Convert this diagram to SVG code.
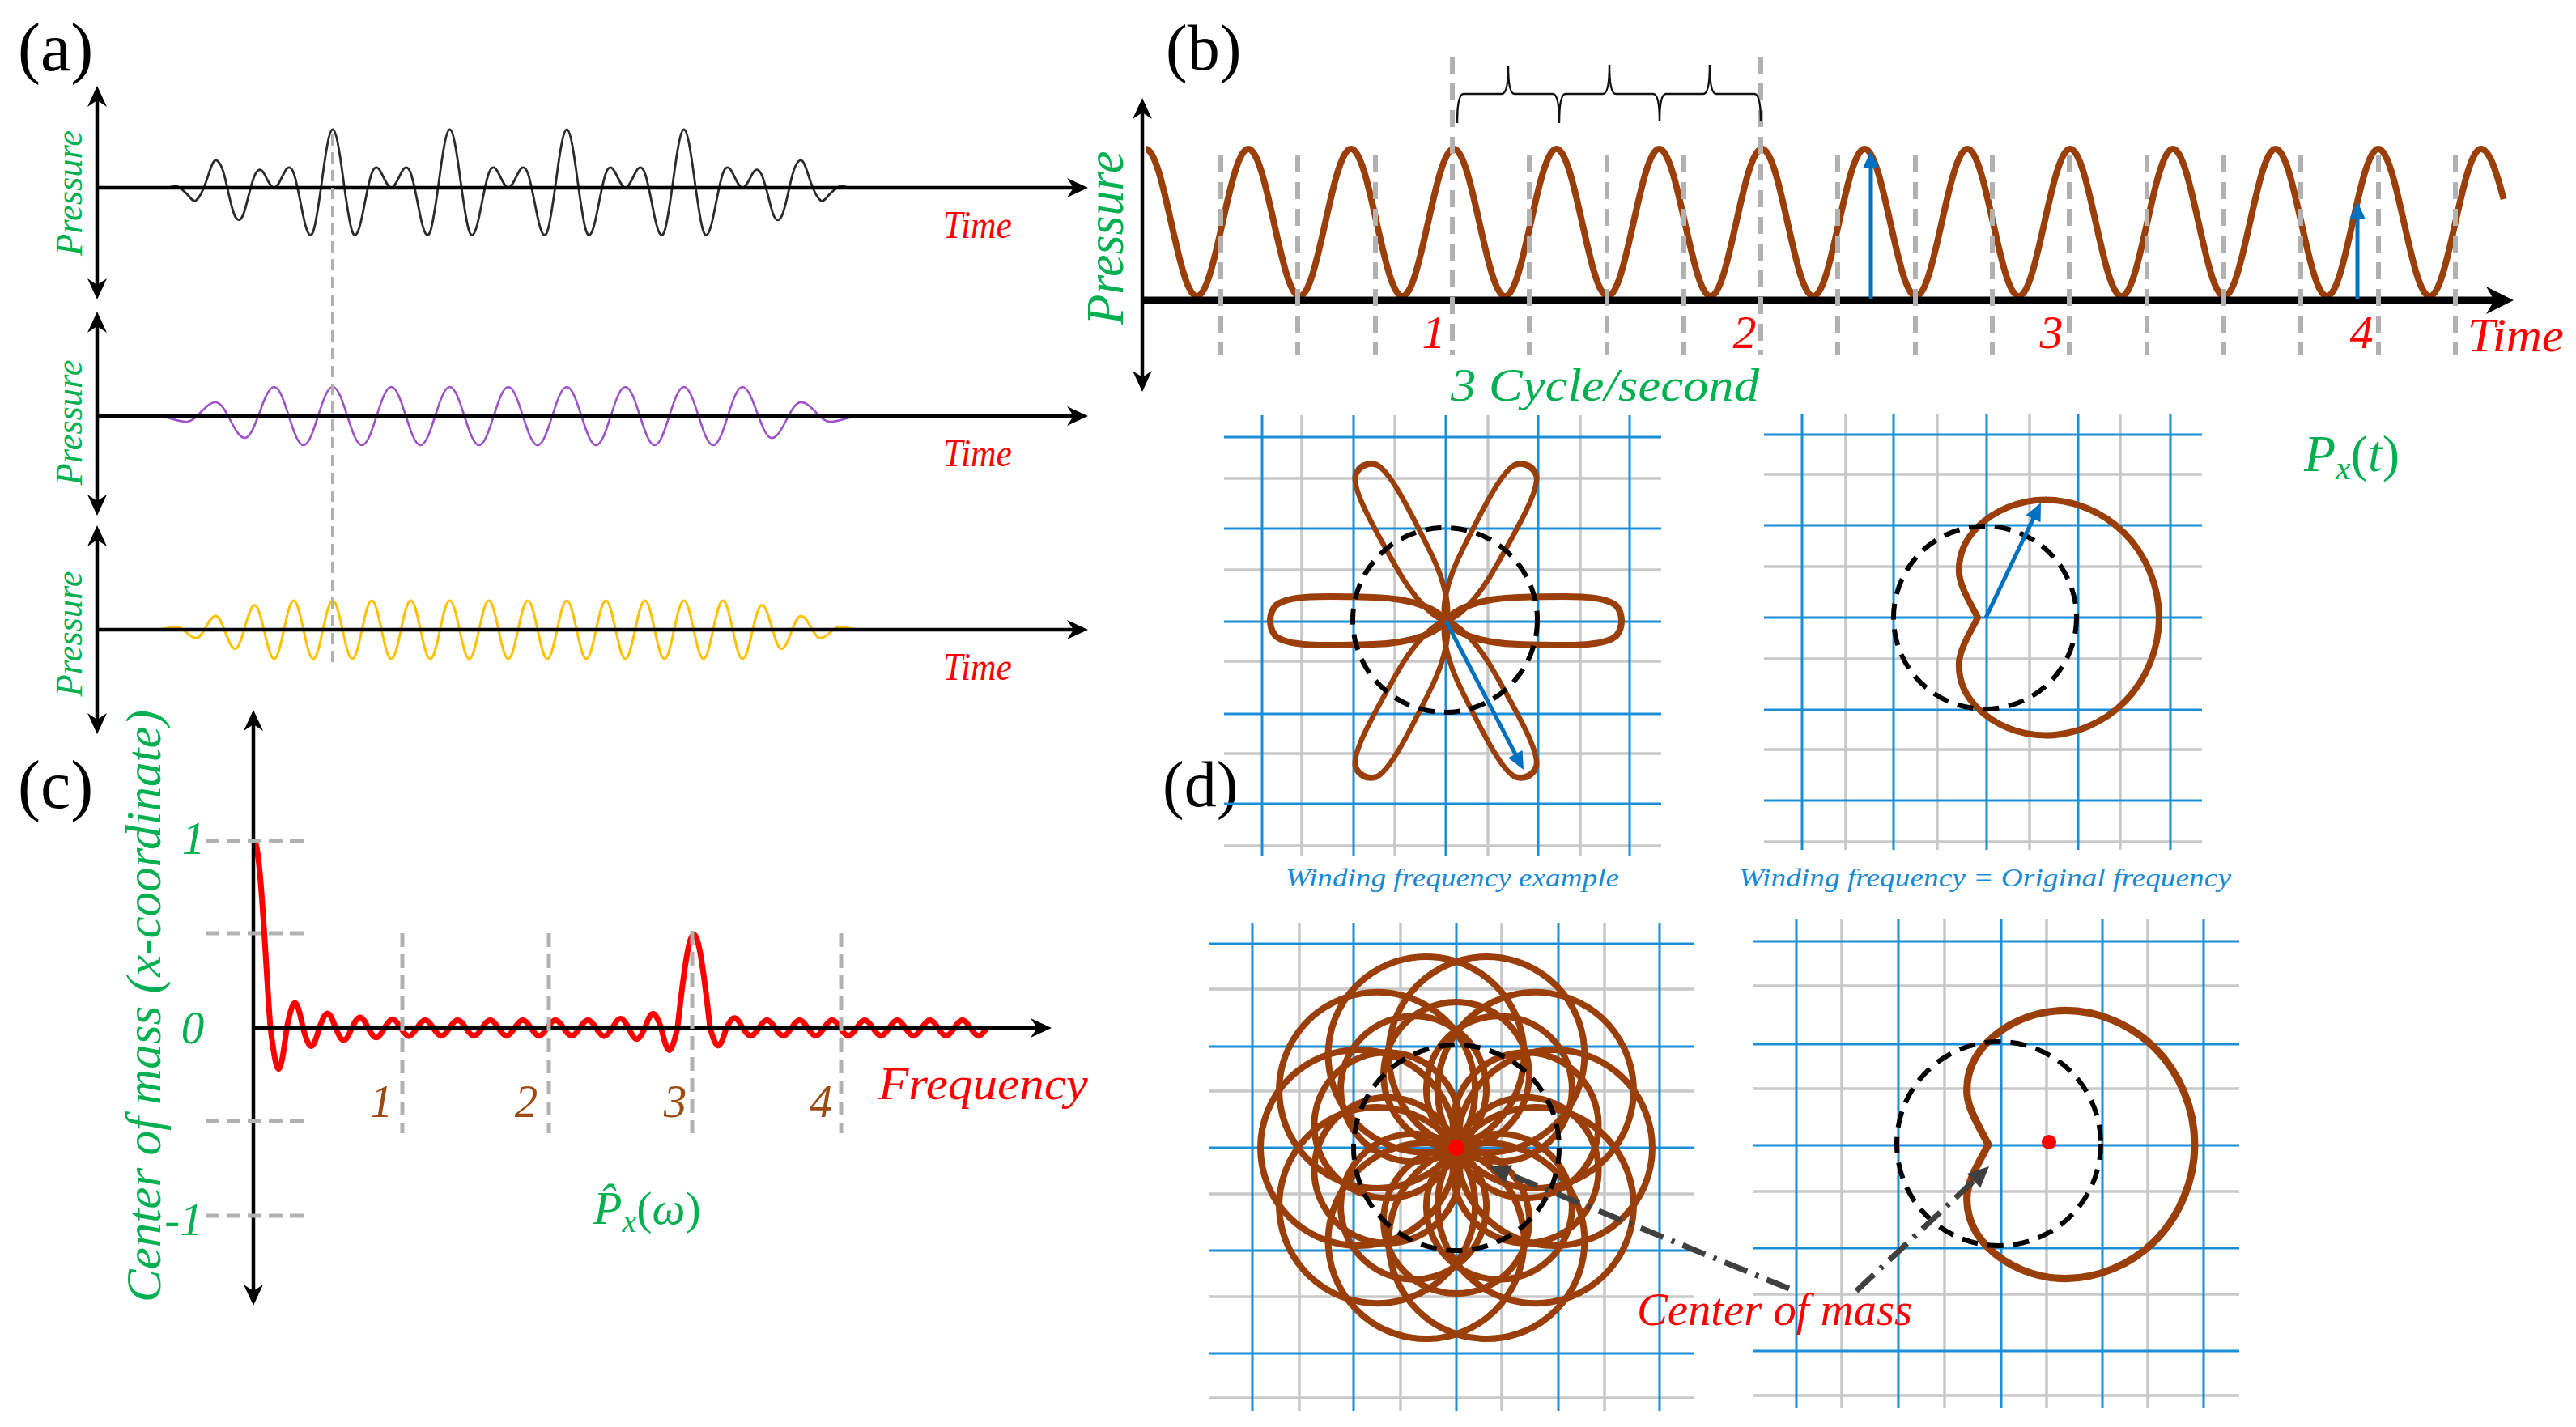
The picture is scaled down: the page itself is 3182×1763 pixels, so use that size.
<svg xmlns="http://www.w3.org/2000/svg" xmlns:xlink="http://www.w3.org/1999/xlink" width="3182" height="1763" viewBox="0 0 3182 1763" font-family="'Liberation Serif', 'Times New Roman', serif">
<style>
text{font-family:'Liberation Serif','Times New Roman',serif}
.it{font-style:italic}
.g{fill:#00b050}
.r{fill:#ff0000}
.bn{fill:#9c4a12}
.bl{fill:#1a8ad4}
.ax{stroke:#000;fill:none;stroke-width:4.5}
.dsh{stroke:#b3b0b0;fill:none;stroke-width:6;stroke-dasharray:21 12}
.gb{stroke:#1a8fd8;stroke-width:3;fill:none}
.gg{stroke:#c8c8c8;stroke-width:3.5;fill:none}
.brn{stroke:#9b3f0a;stroke-width:8;fill:none;stroke-linejoin:round}
.dc{stroke:#000;stroke-width:6;fill:none;stroke-dasharray:20 12}
.barr{stroke:#0070c0;stroke-width:5;fill:none}
.gdd{stroke:#404040;stroke-width:7;fill:none;stroke-dasharray:30 11 4 11}
</style>
<defs>
<marker id="ak" viewBox="-30 -15 32 30" markerWidth="32" markerHeight="30" refX="-8" refY="0" orient="auto-start-reverse" markerUnits="userSpaceOnUse"><path d="M0,0 L-26,-12 L-18,0 L-26,12 Z" fill="#000"/></marker>
<marker id="akB" viewBox="-38 -19 40 38" markerWidth="40" markerHeight="38" refX="-10" refY="0" orient="auto-start-reverse" markerUnits="userSpaceOnUse"><path d="M0,0 L-34,-17 L-24,0 L-34,17 Z" fill="#000"/></marker>
<marker id="ab" viewBox="-24 -12 26 24" markerWidth="26" markerHeight="24" refX="-6" refY="0" orient="auto" markerUnits="userSpaceOnUse"><path d="M0,0 L-22,-10 L-22,10 Z" fill="#0070c0"/></marker>
<marker id="ag" viewBox="-28 -14 30 28" markerWidth="30" markerHeight="28" refX="-6" refY="0" orient="auto" markerUnits="userSpaceOnUse"><path d="M0,0 L-26,-12 L-26,12 Z" fill="#404040"/></marker>
<path id="petal" d="M0,0 C10,-14 40,-28 90,-29 C150,-31 198,-32 211,-18 C219,-8 219,8 211,18 C198,32 150,31 90,29 C40,28 10,14 0,0 Z"/>
<path id="card" d="M224,0 C224,-39.1 207.7,-77.8 181,-104.5 C154.3,-131.2 117.9,-145.5 84,-145.5 C50.1,-145.5 19.55,-131.55 0,-112 C-19.55,-92.45 -24,-72 -23,-55 C-22,-38 -8,-16 0,0 C-8,16 -22,38 -23,55 C-24,72 -19.55,92.45 0,112 C19.55,131.55 50.1,145.5 84,145.5 C117.9,145.5 154.3,131.2 181,104.5 C207.7,77.8 224,39.1 224,0 Z"/>
</defs>
<rect width="3182" height="1763" fill="#fff"/>

<g id="panel-a">
<text x="22" y="87" font-size="84">(a)</text>
<path d="M150,232 L206.15,232 C210.17,232 214.18,229.11 218.2,230.2 C222.22,231.29 226.23,235.34 230.25,239 C234.27,242.66 238.28,250.62 242.3,247.5 C246.32,244.38 250.33,236.5 254.35,225.2 C258.37,213.9 262.38,198 266.4,198 C270.42,198 274.43,205 278.45,221.8 C282.47,238.6 286.48,260.34 290.5,267.5 C294.52,274.66 298.53,273.1 302.55,259 C306.57,244.9 310.58,225.97 314.6,216.8 C318.62,207.63 322.63,207.74 326.65,215.2 C330.67,222.66 334.68,232 338.7,232 c4.02,0 8.03,-10.03 12.05,-18 c4.02,-7.97 8.03,-10.88 12.05,0 c4.02,10.88 8.03,35.15 12.05,54 c4.02,18.85 8.03,28.88 12.05,18 c4.02,-10.88 8.03,-42.26 12.05,-72 c4.02,-29.74 8.03,-54 12.05,-54 c4.02,0 8.03,24.26 12.05,54 c4.02,29.74 8.03,61.12 12.05,72 c4.02,10.88 8.03,0.85 12.05,-18 c4.02,-18.85 8.03,-43.12 12.05,-54 c4.02,-10.88 8.03,-7.97 12.05,0 c4.02,7.97 8.03,18 12.05,18 c4.02,0 8.03,-10.03 12.05,-18 c4.02,-7.97 8.03,-10.88 12.05,0 c4.02,10.88 8.03,35.15 12.05,54 c4.02,18.85 8.03,28.88 12.05,18 c4.02,-10.88 8.03,-42.26 12.05,-72 c4.02,-29.74 8.03,-54 12.05,-54 c4.02,0 8.03,24.26 12.05,54 c4.02,29.74 8.03,61.12 12.05,72 c4.02,10.88 8.03,0.85 12.05,-18 c4.02,-18.85 8.03,-43.12 12.05,-54 c4.02,-10.88 8.03,-7.97 12.05,0 c4.02,7.97 8.03,18 12.05,18 c4.02,0 8.03,-10.03 12.05,-18 c4.02,-7.97 8.03,-10.88 12.05,0 c4.02,10.88 8.03,35.15 12.05,54 c4.02,18.85 8.03,28.88 12.05,18 c4.02,-10.88 8.03,-42.26 12.05,-72 c4.02,-29.74 8.03,-54 12.05,-54 c4.02,0 8.03,24.26 12.05,54 c4.02,29.74 8.03,61.12 12.05,72 c4.02,10.88 8.03,0.85 12.05,-18 c4.02,-18.85 8.03,-43.12 12.05,-54 c4.02,-10.88 8.03,-7.97 12.05,0 c4.02,7.97 8.03,18 12.05,18 c4.02,0 8.03,-10.03 12.05,-18 c4.02,-7.97 8.03,-10.88 12.05,0 c4.02,10.88 8.03,35.15 12.05,54 c4.02,18.85 8.03,28.88 12.05,18 c4.02,-10.88 8.03,-42.26 12.05,-72 c4.02,-29.74 8.03,-54 12.05,-54 c4.02,0 8.03,24.26 12.05,54 c4.02,29.74 8.03,61.12 12.05,72 c4.02,10.88 8.03,0.85 12.05,-18 c4.02,-18.85 8.03,-43.12 12.05,-54 c4.02,-10.88 8.03,-7.97 12.05,0 c4.02,7.97 8.03,18 12.05,18 C921.12,232 925.13,222.57 929.15,215.1 C933.17,207.63 937.18,207.61 941.2,216.8 C945.22,225.99 949.23,244.9 953.25,259.1 C957.27,273.3 961.28,274.77 965.3,267.6 C969.32,260.43 973.33,238.7 977.35,221.8 C981.37,204.9 985.38,197.9 989.4,197.9 C993.42,197.9 997.43,213.8 1001.45,225.1 C1005.47,236.4 1009.48,244.47 1013.5,247.6 C1017.52,250.73 1021.53,242.79 1025.55,239.1 C1029.57,235.41 1033.58,231.22 1037.6,230.1 C1041.62,228.98 1045.63,232 1049.65,232 L1140,232" fill="none" stroke="#2b2b2b" stroke-width="2.8"/>
<path d="M150,514 L194.1,514 C207.24,514 217.11,521 230.25,521 C243.39,521 253.26,497 266.4,497 C279.54,497 289.41,541 302.55,541 C315.69,541 325.56,478 338.7,478 c13.14,0 23.01,72 36.15,72 s23.01,-72 36.15,-72 s23.01,72 36.15,72 s23.01,-72 36.15,-72 s23.01,72 36.15,72 s23.01,-72 36.15,-72 s23.01,72 36.15,72 s23.01,-72 36.15,-72 s23.01,72 36.15,72 s23.01,-72 36.15,-72 s23.01,72 36.15,72 s23.01,-72 36.15,-72 s23.01,72 36.15,72 s23.01,-72 36.15,-72 s23.01,72 36.15,72 s23.01,-72 36.15,-72 C930.24,478 940.11,541.1 953.25,541.1 C966.39,541.1 976.26,496.9 989.4,496.9 C1002.54,496.9 1012.41,521.1 1025.55,521.1 C1038.69,521.1 1048.56,514 1061.7,514 L1140,514" fill="none" stroke="#9e52c9" stroke-width="2.6"/>
<path d="M150,778 L194.1,778 C202.86,778 209.44,774.4 218.2,774.4 C226.96,774.4 233.54,788.3 242.3,788.3 C251.06,788.3 257.64,761 266.4,761 C275.16,761 281.74,801.7 290.5,801.7 C299.26,801.7 305.84,747.7 314.6,747.7 C323.36,747.7 329.94,814 338.7,814 c8.76,0 15.34,-72 24.1,-72 s15.34,72 24.1,72 s15.34,-72 24.1,-72 s15.34,72 24.1,72 s15.34,-72 24.1,-72 s15.34,72 24.1,72 s15.34,-72 24.1,-72 s15.34,72 24.1,72 s15.34,-72 24.1,-72 s15.34,72 24.1,72 s15.34,-72 24.1,-72 s15.34,72 24.1,72 s15.34,-72 24.1,-72 s15.34,72 24.1,72 s15.34,-72 24.1,-72 s15.34,72 24.1,72 s15.34,-72 24.1,-72 s15.34,72 24.1,72 s15.34,-72 24.1,-72 s15.34,72 24.1,72 s15.34,-72 24.1,-72 s15.34,72 24.1,72 s15.34,-72 24.1,-72 s15.34,72 24.1,72 C925.86,814 932.44,747.6 941.2,747.6 C949.96,747.6 956.54,801.7 965.3,801.7 C974.06,801.7 980.64,760.9 989.4,760.9 C998.16,760.9 1004.74,788.4 1013.5,788.4 C1022.26,788.4 1028.84,774.3 1037.6,774.3 C1046.36,774.3 1052.94,778 1061.7,778 L1140,778" fill="none" stroke="#ffc000" stroke-width="3"/>
<path class="ax" d="M120,362 L120,114" marker-start="url(#ak)" marker-end="url(#ak)"/>
<path class="ax" d="M120,629 L120,393" marker-start="url(#ak)" marker-end="url(#ak)"/>
<path class="ax" d="M120,899 L120,657" marker-start="url(#ak)" marker-end="url(#ak)"/>
<path class="ax" d="M120,232 L1336,232" marker-end="url(#ak)"/>
<path class="ax" d="M120,514 L1336,514" marker-end="url(#ak)"/>
<path class="ax" d="M120,778 L1336,778" marker-end="url(#ak)"/>
<path d="M411,166 L411,827" stroke="#b0b0b0" stroke-width="4" stroke-dasharray="14 8" fill="none"/>
<text class="it g" font-size="46" text-anchor="middle" textLength="155" lengthAdjust="spacingAndGlyphs" transform="translate(101,238.5) rotate(-90)">Pressure</text>
<text class="it g" font-size="46" text-anchor="middle" textLength="155" lengthAdjust="spacingAndGlyphs" transform="translate(101,522) rotate(-90)">Pressure</text>
<text class="it g" font-size="46" text-anchor="middle" textLength="155" lengthAdjust="spacingAndGlyphs" transform="translate(101,783) rotate(-90)">Pressure</text>
<text class="it r" x="1165" y="294" font-size="48" textLength="85" lengthAdjust="spacingAndGlyphs">Time</text>
<text class="it r" x="1165" y="576" font-size="48" textLength="85" lengthAdjust="spacingAndGlyphs">Time</text>
<text class="it r" x="1165" y="840" font-size="48" textLength="85" lengthAdjust="spacingAndGlyphs">Time</text>
</g>

<g id="panel-b">
<text x="1440" y="86" font-size="80">(b)</text>
<path d="M1415,184 c23.06,0 40.39,182 63.45,182 s40.39,-182 63.45,-182 s40.39,182 63.45,182 s40.39,-182 63.45,-182 s40.39,182 63.45,182 s40.39,-182 63.45,-182 s40.39,182 63.45,182 s40.39,-182 63.45,-182 s40.39,182 63.45,182 s40.39,-182 63.45,-182 s40.39,182 63.45,182 s40.39,-182 63.45,-182 s40.39,182 63.45,182 s40.39,-182 63.45,-182 s40.39,182 63.45,182 s40.39,-182 63.45,-182 s40.39,182 63.45,182 s40.39,-182 63.45,-182 s40.39,182 63.45,182 s40.39,-182 63.45,-182 s40.39,182 63.45,182 s40.39,-182 63.45,-182 s40.39,182 63.45,182 s40.39,-182 63.45,-182 s40.39,182 63.45,182 s40.39,-182 63.45,-182 c12,0 22,40 28,62" class="brn" stroke-width="8"/>
<path class="ax" d="M1411,476 L1411,129" marker-start="url(#ak)" marker-end="url(#ak)"/>
<path d="M1411,371 L3095,371" stroke="#000" stroke-width="9" fill="none" marker-end="url(#akB)"/>
<path class="barr" d="M2311,370 L2311,192" marker-end="url(#ab)"/>
<path class="barr" d="M2912,370 L2912,255" marker-end="url(#ab)"/>
<path class="dsh" d="M1794,70 V438 M2175,70 V438 M1508,192 V438 M1603,192 V438 M1699,192 V438 M1889,192 V438 M1985,192 V438 M2080,192 V438 M2270,192 V438 M2366,192 V438 M2461,192 V438 M2556,192 V438 M2652,192 V438 M2747,192 V438 M2842,192 V438 M2938,192 V438 M3033,192 V438"/>
<path d="M1800,152 Q1800,116 1808,116 L1855,116 Q1863,116 1863,82 Q1863,116 1871,116 L1918,116 Q1926,116 1926,152 Q1926,116 1934,116 L1980,116 Q1988,116 1988,80 Q1988,116 1996,116 L2042,116 Q2050,116 2050,150 Q2050,116 2058,116 L2104,116 Q2112,116 2112,80 Q2112,116 2120,116 L2167,116 Q2175,116 2175,150" fill="none" stroke="#111" stroke-width="2.5"/>
<text class="it g" font-size="66" text-anchor="middle" textLength="215" lengthAdjust="spacingAndGlyphs" transform="translate(1387,294) rotate(-90)">Pressure</text>
<text class="it r" x="1771" y="430" font-size="58" text-anchor="middle">1</text>
<text class="it r" x="2155" y="430" font-size="58" text-anchor="middle">2</text>
<text class="it r" x="2534" y="430" font-size="58" text-anchor="middle">3</text>
<text class="it r" x="2917" y="430" font-size="58" text-anchor="middle">4</text>
<text class="it r" x="3048" y="434" font-size="60" textLength="119" lengthAdjust="spacingAndGlyphs">Time</text>
<text class="it g" x="1792" y="495" font-size="58" textLength="381" lengthAdjust="spacingAndGlyphs">3 Cycle/second</text>
<text class="g" x="2846" y="582" font-size="64"><tspan class="it">P</tspan><tspan class="it" font-size="42" dy="10">x</tspan><tspan dy="-10">(</tspan><tspan class="it">t</tspan>)</text>
</g>

<g id="panel-c">
<text x="22" y="998" font-size="84">(c)</text>
<path d="M314,1039 C322,1039 329.11,1212.5 334.11,1270 c8.54,67.3 11.57,67.3 20.11,0 c8.54,-41.2 11.57,-41.2 20.11,0 c8.54,30.1 11.57,30.1 20.11,0 c8.54,-24 11.57,-24 20.11,0 c8.54,20.1 11.57,20.1 20.11,0 c8.54,-17.5 11.57,-17.5 20.11,0 c8.54,15.6 11.57,15.6 20.11,0 c8.54,-14.5 11.57,-14.5 20.11,0 c8.54,13.5 11.57,13.5 20.11,0 c8.54,-13 11.57,-13 20.11,0 c8.54,13 11.57,13 20.11,0 c8.54,-13 11.57,-13 20.11,0 c8.54,13 11.57,13 20.11,0 c8.54,-13 11.57,-13 20.11,0 c8.54,13 11.57,13 20.11,0 c8.54,-13 11.57,-13 20.11,0 c8.54,13 11.57,13 20.11,0 c8.54,-13 11.57,-13 20.11,0 c8.54,13 11.57,13 20.11,0 c8.54,-13 11.57,-13 20.11,0 c8.54,13.5 11.57,13.5 20.11,0 c8.54,-15.3 11.57,-15.3 20.11,0 c8.54,18.2 11.57,18.2 20.11,0 c8.54,-23.6 11.57,-23.6 20.11,0 c8.54,36.5 11.57,36.5 20.11,0 c17.07,-154 23.15,-154 40.22,0 c8.54,29.2 11.57,29.2 20.11,0 c8.54,-16.3 11.57,-16.3 20.11,0 c8.54,13 11.57,13 20.11,0 c8.54,-13 11.57,-13 20.11,0 c8.54,13 11.57,13 20.11,0 c8.54,-13 11.57,-13 20.11,0 c8.54,13 11.57,13 20.11,0 c8.54,-13 11.57,-13 20.11,0 c8.54,13 11.57,13 20.11,0 c8.54,-13 11.57,-13 20.11,0 c8.54,13 11.57,13 20.11,0 c8.54,-13 11.57,-13 20.11,0 c8.54,13 11.57,13 20.11,0 c8.54,-13 11.57,-13 20.11,0 c8.54,13 11.57,13 20.11,0 c8.54,-13 11.57,-13 20.11,0 c8.54,13 11.57,13 20.11,0" fill="none" stroke="#ff0000" stroke-width="7" stroke-linejoin="round"/>
<path class="ax" d="M313,1605 L313,885" marker-start="url(#ak)" marker-end="url(#ak)"/>
<path class="ax" d="M313,1270 L1291,1270" marker-end="url(#ak)"/>
<path d="M254,1039 H375 M254,1153 H375 M254,1385 H375 M254,1502 H375 M497,1153 V1400 M678,1153 V1400 M855,1150 V1400 M1039,1153 V1400" stroke="#b3b0b0" stroke-width="5" stroke-dasharray="17 9" fill="none"/>
<text class="it g" x="239" y="1055" font-size="57" text-anchor="middle">1</text>
<text class="it g" x="238" y="1289" font-size="57" text-anchor="middle">0</text>
<text class="it g" x="227" y="1526" font-size="57" text-anchor="middle">-1</text>
<text class="it bn" x="471" y="1380" font-size="57" text-anchor="middle">1</text>
<text class="it bn" x="650" y="1380" font-size="57" text-anchor="middle">2</text>
<text class="it bn" x="834" y="1380" font-size="57" text-anchor="middle">3</text>
<text class="it bn" x="1014" y="1380" font-size="57" text-anchor="middle">4</text>
<text class="it r" x="1085" y="1358" font-size="58" textLength="259" lengthAdjust="spacingAndGlyphs">Frequency</text>
<text class="it g" font-size="62" text-anchor="middle" textLength="732" lengthAdjust="spacingAndGlyphs" transform="translate(198,1243) rotate(-90)">Center of mass (x-coordinate)</text>
<text class="g" x="733" y="1512" font-size="58"><tspan class="it">P̂</tspan><tspan class="it" font-size="40" dy="10">x</tspan><tspan dy="-10">(</tspan><tspan class="it">ω</tspan>)</text>
</g>

<g id="panel-d">
<text x="1436" y="996" font-size="80">(d)</text>
<g id="grid-tl">
<path class="gg" d="M1608,513V1058 M1723,513V1058 M1838,513V1058 M1952,513V1058 M1512,591H2052 M1512,704H2052 M1512,817H2052 M1512,931H2052 M1512,1045H2052"/>
<path class="gb" d="M1559,513V1058 M1672,513V1058 M1786,513V1058 M1900,513V1058 M2013,513V1058 M1512,540H2052 M1512,653H2052 M1512,768H2052 M1512,882H2052 M1512,993H2052"/>
<g class="brn">
<use xlink:href="#petal" transform="translate(1786,767)"/>
<use xlink:href="#petal" transform="translate(1786,767) rotate(62) scale(1,0.8)"/>
<use xlink:href="#petal" transform="translate(1786,767) rotate(118) scale(1,0.8)"/>
<use xlink:href="#petal" transform="translate(1786,767) rotate(180)"/>
<use xlink:href="#petal" transform="translate(1786,767) rotate(242) scale(1,0.8)"/>
<use xlink:href="#petal" transform="translate(1786,767) rotate(298) scale(1,0.8)"/>
</g>
<circle class="dc" cx="1785" cy="766" r="114"/>
<path class="barr" d="M1786,767 L1879.2,945.7" marker-end="url(#ab)"/>
</g>
<g id="grid-tr">
<path class="gg" d="M2280,512V1050 M2393,512V1050 M2507,512V1050 M2619,512V1050 M2179,586H2720 M2179,700H2720 M2179,814H2720 M2179,926H2720 M2179,1040H2720"/>
<path class="gb" d="M2226,512V1050 M2339,512V1050 M2454,512V1050 M2567,512V1050 M2681,512V1050 M2179,537H2720 M2179,649H2720 M2179,763H2720 M2179,877H2720 M2179,989H2720"/>
<use xlink:href="#card" class="brn" transform="translate(2443,763)"/>
<circle class="dc" cx="2452" cy="763" r="113"/>
<path class="barr" d="M2453,763 L2518.4,626.4" marker-end="url(#ab)"/>
</g>
<g id="grid-bl">
<path class="gg" d="M1605,1140V1743 M1730,1140V1743 M1855,1140V1743 M1982,1140V1743 M1494,1222H2092 M1494,1348H2092 M1494,1475H2092 M1494,1602H2092 M1494,1727H2092"/>
<path class="gb" d="M1547,1140V1743 M1672,1140V1743 M1799,1140V1743 M1925,1140V1743 M2050,1140V1743 M1494,1166H2092 M1494,1293H2092 M1494,1418H2092 M1494,1545H2092 M1494,1672H2092"/>
<g class="brn" stroke-width="7">
<circle cx="1920" cy="1418" r="121"/>
<circle cx="1920" cy="1418" r="121" transform="rotate(36 1799 1418)"/>
<circle cx="1920" cy="1418" r="121" transform="rotate(72 1799 1418)"/>
<circle cx="1920" cy="1418" r="121" transform="rotate(108 1799 1418)"/>
<circle cx="1920" cy="1418" r="121" transform="rotate(144 1799 1418)"/>
<circle cx="1920" cy="1418" r="121" transform="rotate(180 1799 1418)"/>
<circle cx="1920" cy="1418" r="121" transform="rotate(216 1799 1418)"/>
<circle cx="1920" cy="1418" r="121" transform="rotate(252 1799 1418)"/>
<circle cx="1920" cy="1418" r="121" transform="rotate(288 1799 1418)"/>
<circle cx="1920" cy="1418" r="121" transform="rotate(324 1799 1418)"/>
<circle cx="1889" cy="1418" r="90" transform="rotate(18 1799 1418)"/>
<circle cx="1889" cy="1418" r="90" transform="rotate(54 1799 1418)"/>
<circle cx="1889" cy="1418" r="90" transform="rotate(90 1799 1418)"/>
<circle cx="1889" cy="1418" r="90" transform="rotate(126 1799 1418)"/>
<circle cx="1889" cy="1418" r="90" transform="rotate(162 1799 1418)"/>
<circle cx="1889" cy="1418" r="90" transform="rotate(198 1799 1418)"/>
<circle cx="1889" cy="1418" r="90" transform="rotate(234 1799 1418)"/>
<circle cx="1889" cy="1418" r="90" transform="rotate(270 1799 1418)"/>
<circle cx="1889" cy="1418" r="90" transform="rotate(306 1799 1418)"/>
<circle cx="1889" cy="1418" r="90" transform="rotate(342 1799 1418)"/>
</g>
<circle class="dc" cx="1799" cy="1418" r="127"/>
<circle cx="1799" cy="1418" r="10" fill="#ff0000"/>
</g>
<g id="grid-br">
<path class="gg" d="M2275,1135V1740 M2402,1135V1740 M2528,1135V1740 M2653,1135V1740 M2165,1218H2766 M2165,1345H2766 M2165,1472H2766 M2165,1599H2766 M2165,1724H2766"/>
<path class="gb" d="M2219,1135V1740 M2345,1135V1740 M2472,1135V1740 M2597,1135V1740 M2722,1135V1740 M2165,1163H2766 M2165,1290H2766 M2165,1415H2766 M2165,1542H2766 M2165,1669H2766"/>
<use xlink:href="#card" class="brn" stroke-width="7" transform="translate(2456,1414) scale(1.138)"/>
<circle class="dc" cx="2469" cy="1413" r="126"/>
<circle cx="2531" cy="1411" r="9" fill="#ff0000"/>
</g>
<text class="it bl" x="1588" y="1095" font-size="31" textLength="412" lengthAdjust="spacingAndGlyphs">Winding frequency example</text>
<text class="it bl" x="2148" y="1095" font-size="31" textLength="608" lengthAdjust="spacingAndGlyphs">Winding frequency = Original frequency</text>
<text class="it r" x="2022" y="1637" font-size="57" textLength="340" lengthAdjust="spacingAndGlyphs">Center of mass</text>
</g>

<g id="connectors">
<path class="gdd" d="M2210,1592 L1845,1443" marker-end="url(#ag)"/>
<path class="gdd" d="M2293,1595 L2452.6,1445.1" marker-end="url(#ag)"/>
</g>
</svg>
